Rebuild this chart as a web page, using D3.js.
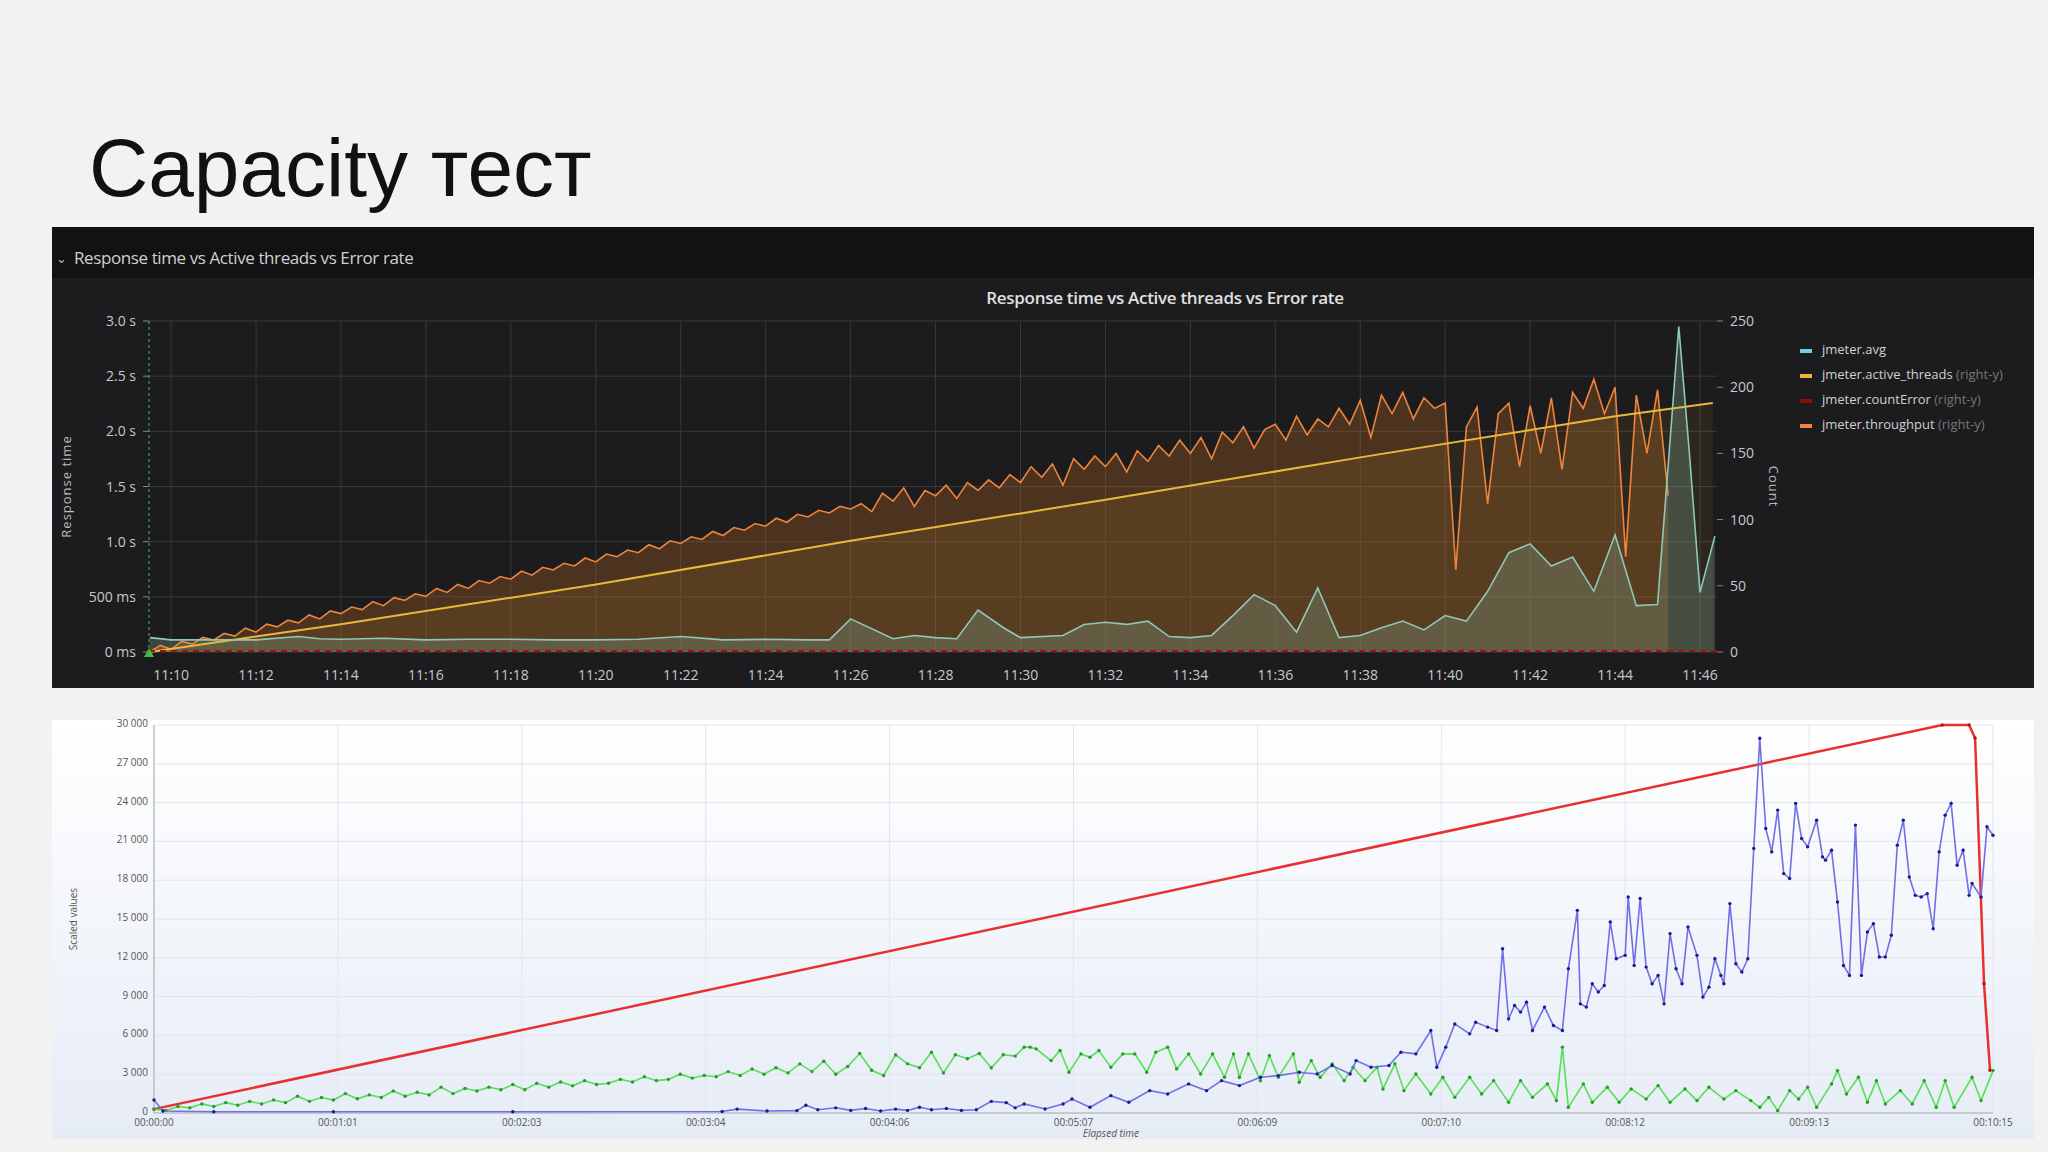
<!DOCTYPE html>
<html><head><meta charset="utf-8">
<script src="https://cdn.jsdelivr.net/npm/d3@7"></script>
<style>body{margin:0;background:#f2f2f2;font-family:"Open Sans","Noto Sans",sans-serif;}</style>
</head><body>
<svg id="c" width="2048" height="1152"></svg>
<script>
// ---------- top chart data (minutes after 11:00) ----------
const tpStart = 9.5, tpStep = 0.25;
const throughput = [0,5,2,8,6,11,9,14,12,18,15,21,19,24,22,28,25,31,29,34,32,38,35,41,39,44,42,48,45,51,48,54,52,57,55,61,58,64,62,67,65,71,68,74,72,77,75,81,78,84,82,87,85,91,88,94,92,97,95,101,98,104,102,107,105,110,108,
 112,106,120,114,124,110,122,118,126,116,128,122,130,124,134,
 128,140,132,142,126,146,138,148,140,150,136,152,144,156,148,
 160,150,162,146,166,158,170,154,168,172,160,178,164,176,170,
 184,172,190,162,194,180,196,176,192,184,188,
 62,170,185,112,180,188,140,186,150,192,138,196,184,206,180,200,72,194,150,198,118];
const threadsT = [9.5, 14, 20, 26, 32, 38, 44, 46.3];
const threadsV = [0, 21, 51, 84, 115, 147, 178, 188];
const avgT = [9.5,10,11,12,13,13.5,14,15,16,17,18,19,20,21,22,23,24,25,25.5,26,27,27.5,28,28.5,29,29.6,30,31,31.5,32,32.5,33,33.5,34,34.5,35,35.5,36,36.5,37,37.5,38,38.5,39,39.5,40,40.5,41,41.5,42,42.5,43,43.5,44,44.5,45,45.5,45.75,46,46.35];
const avgV = [130,110,110,110,140,120,115,125,110,115,115,110,110,115,140,110,115,110,110,300,120,150,130,120,380,220,130,150,250,270,250,280,140,130,150,330,520,420,180,580,130,150,220,280,200,330,280,550,900,980,780,860,550,1060,420,430,2950,1800,540,1050,650];
const leftTicks = [0,500,1000,1500,2000,2500,3000];
const leftLabels = ["0 ms","500 ms","1.0 s","1.5 s","2.0 s","2.5 s","3.0 s"];
const rightTicks = [0,50,100,150,200,250];
const xTicks = [10,12,14,16,18,20,22,24,26,28,30,32,34,36,38,40,42,44,46];
const legendNames = ["jmeter.avg","jmeter.active_threads","jmeter.countError","jmeter.throughput"];
const legendSuffix = [""," (right-y)"," (right-y)"," (right-y)"];
const legendColors = ["#6ed0e0","#eab839","#890f02","#ef843c"];

// ---------- bottom chart data (seconds, scaled values) ----------
const redPts = [[0,300],[598,30000],[607,30000],[609,29000],[612,10000],[614,3300]];
const bluePts = [[0,1000],[3,150],[20,100],[60,100],[120,100],[190,120],[195,300],[205,150],[215,180],[218,600],[222,250],[228,400],[233,200],[238,350],[243,150],[248,300],[252,200],[256,450],[260,250],[265,350],[270,200],[275,250],[280,900],[285,800],[288,400],
[291,700],[298,310],[304,700],[307,1080],[313,440],[320,1340],[326,830],[333,1730],[339,1470],[346,2250],[352,1730],[357,2500],[363,2120],[370,2760],[376,2890],[383,3150],[389,3020],[394,3670],[400,3020],[402,4050],[407,3540],[413,3670],[417,4700],[422,4570],[427,6380],[429,3540],[432,5090],[435,6890],[440,6120],[442,7020],[446,6640],[449,6380],[451,12700],[453,7280],[455,8310],[457,7800],[459,8570],[461,6380],[465,8190],[468,6760],[471,6380],[473,11150],[476,15670],[477,8440],[479,8190],[481,9990],[483,9350],[485,9860],[487,14770],[489,11930],[492,12190],[493,16700],[495,11410],[497,16580],[499,11280],[501,9990],[503,10640],[505,8440],[507,13870],[509,11150],[511,9990],[513,14380],[516,12190],[518,8960],[520,9730],[522,11930],[524,10640],[525,9990],[527,16190],[529,11540],[531,10900],[533,11930],[535,20450],[537,28970],[539,22000],[541,20190],[543,23420],[545,18510],[547,18130],[549,23940],[551,21220],[553,20580],[556,22640],[558,19800],[559,19550],[561,20320],[563,16320],[565,11410],[567,10640],[569,22260],[571,10640],[573,13990],[575,14640],[577,12060],[579,12060],[581,13740],[583,20710],[585,22640],[587,18250],[589,16830],[591,16700],[593,16960],[595,14250],[597,20190],[599,23030],[601,23940],[603,19160],[605,20320],[607,16830],[608,17740],[611,16700],[613,22130],[615,21480]];
const greenPts = [[0,300],[4,200],[8,500],[12,400],[16,700],[20,500],[24,800],[28,600],[32,900],[36,700],[40,1000],[44,800],[48,1300],[52,900],[56,1200],[60,1000],[64,1500],[68,1100],[72,1400],[76,1200],[80,1700],[84,1300],[88,1600],[92,1400],[96,2000],[100,1500],[104,1900],[108,1700],[112,2000],[116,1800],[120,2200],[124,1800],[128,2300],[132,2000],[136,2400],[140,2100],[144,2500],[148,2200],[152,2300],[156,2600],[160,2400],[164,2800],[168,2500],[172,2600],[176,3000],[180,2700],[184,2900],[188,2800],[192,3200],[196,2900],[200,3400],[204,3000],[208,3500],[212,3100],[216,3800],[220,3200],[224,4000],[228,3000],[232,3600],[236,4600],[240,3300],[244,2900],[248,4500],[252,3800],[256,3500],[260,4700],[264,3100],[268,4500],[272,4200],[276,4600],[280,3500],[284,4500],[288,4400],
[291,5090],[293,5090],[295,4960],[300,4050],[303,4830],[306,3150],[310,4570],[313,4310],[316,4830],[320,3540],[324,4570],[328,4570],[332,3150],[335,4700],[339,5090],[342,3410],[346,4570],[350,3020],[354,4570],[358,2760],[361,4570],[363,2760],[366,4570],[370,2500],[373,4440],[376,2760],[381,4570],[383,2380],[387,4050],[390,2760],[394,3800],[398,2500],[401,3540],[405,2500],[409,3540],[411,1860],[415,3800],[418,1730],[422,3020],[427,1470],[431,2760],[435,1210],[440,2760],[444,1470],[448,2500],[453,830],[457,2500],[461,1210],[466,2250],[469,960],[471,5090],[473,440],[478,2250],[481,830],[486,1990],[490,830],[494,1860],[499,1080],[503,2120],[507,830],[512,1860],[516,960],[520,1990],[525,1080],[529,1730],[534,960],[537,440],[540,1210],[543,180],[547,1730],[550,1080],[553,1990],[556,440],[561,2250],[563,3280],[566,1470],[570,2760],[573,830],[576,2500],[579,700],[584,1730],[588,700],[592,2500],[596,440],[599,2500],[602,440],[608,2760],[611,960],[615,3280]];
const bYTicks = [0,3000,6000,9000,12000,15000,18000,21000,24000,27000,30000];
const bXTicks = [0,61.5,123,184.5,246,307.5,369,430.5,492,553.5,615];
const bXLabels = ["00:00:00","00:01:01","00:02:03","00:03:04","00:04:06","00:05:07","00:06:09","00:07:10","00:08:12","00:09:13","00:10:15"];

const svg = d3.select("#c");
svg.append("text").attr("x",89).attr("y",196).attr("font-size",82).attr("fill","#111")
  .attr("font-family","Liberation Sans, Arial, sans-serif").text("Capacity тест");

// ----- top panel -----
svg.append("rect").attr("x",52).attr("y",227).attr("width",1982).attr("height",461).attr("fill","#1c1c1e");
svg.append("rect").attr("x",52).attr("y",227).attr("width",1982).attr("height",51).attr("fill","#121212");
svg.append("text").attr("x",56).attr("y",263).attr("fill","#bbb").attr("font-size",13).text("⌄");
svg.append("text").attr("x",74).attr("y",264).attr("fill","#d0d0d0").attr("font-size",17).attr("letter-spacing",-0.4).text("Response time vs Active threads vs Error rate");
svg.append("text").attr("x",1165).attr("y",304).attr("text-anchor","middle").attr("fill","#e0e0e0").attr("font-size",17).attr("font-weight","600").attr("letter-spacing",-0.3).text("Response time vs Active threads vs Error rate");

const L=149,R=1717,T=321,B=652;
const x = d3.scaleLinear().domain([9.48,46.4]).range([L,R]);
const yL = d3.scaleLinear().domain([0,3000]).range([B,T]);
const yR = d3.scaleLinear().domain([0,250]).range([B,T]);
const g = svg.append("g");
g.selectAll(".hg").data(leftTicks).join("line").attr("x1",L).attr("x2",R).attr("y1",d=>yL(d)).attr("y2",d=>yL(d)).attr("stroke","#3a3a3c");
g.selectAll(".vg").data(xTicks).join("line").attr("y1",T).attr("y2",B).attr("x1",d=>x(d)).attr("x2",d=>x(d)).attr("stroke","#38383a");
const tpData = throughput.map((v,i)=>[tpStart+i*tpStep,v]);
g.append("path").datum(tpData).attr("fill","rgba(200,110,40,0.28)")
  .attr("d",d3.area().x(d=>x(d[0])).y0(B).y1(d=>yR(d[1])));
const thData = threadsT.map((t,i)=>[t,threadsV[i]]);
g.append("path").datum(thData).attr("fill","rgba(234,184,57,0.08)")
  .attr("d",d3.area().x(d=>x(d[0])).y0(B).y1(d=>yR(d[1])));
const avgData = avgT.map((t,i)=>[t,avgV[i]]);
g.append("path").datum(avgData).attr("fill","rgba(120,150,130,0.35)")
  .attr("d",d3.area().x(d=>x(d[0])).y0(B).y1(d=>yL(d[1])));
g.append("path").datum(tpData).attr("fill","none").attr("stroke","#ef843c").attr("stroke-width",1.6)
  .attr("d",d3.line().x(d=>x(d[0])).y(d=>yR(d[1])));
g.append("path").datum(thData).attr("fill","none").attr("stroke","#eab839").attr("stroke-width",2)
  .attr("d",d3.line().x(d=>x(d[0])).y(d=>yR(d[1])));
g.append("path").datum(avgData).attr("fill","none").attr("stroke","#8fc8b8").attr("stroke-width",1.6)
  .attr("d",d3.line().x(d=>x(d[0])).y(d=>yL(d[1])));
g.append("line").attr("x1",L).attr("x2",R).attr("y1",yR(0)-1).attr("y2",yR(0)-1).attr("stroke","#a01010").attr("stroke-width",2).attr("stroke-dasharray","6,5");
g.append("line").attr("x1",L).attr("x2",L).attr("y1",T).attr("y2",B).attr("stroke","#3fbf3f").attr("stroke-dasharray","3,3");
g.append("path").attr("d",`M${L-5},${B+5}L${L+5},${B+5}L${L},${B-4}Z`).attr("fill","#3fbf3f");
g.selectAll(".lt").data(leftTicks).join("text").attr("x",L-13).attr("y",d=>yL(d)+5).attr("text-anchor","end").attr("fill","#c8c8c8").attr("font-size",14).text((d,i)=>leftLabels[i]);
g.selectAll(".lk").data(leftTicks).join("line").attr("x1",L-6).attr("x2",L).attr("y1",d=>yL(d)).attr("y2",d=>yL(d)).attr("stroke","#888");
g.selectAll(".rt").data(rightTicks).join("text").attr("x",R+13).attr("y",d=>yR(d)+5).attr("fill","#c8c8c8").attr("font-size",14).text(d=>d);
g.selectAll(".rk").data(rightTicks).join("line").attr("x1",R).attr("x2",R+6).attr("y1",d=>yR(d)).attr("y2",d=>yR(d)).attr("stroke","#888");
g.selectAll(".xt").data(xTicks).join("text").attr("x",d=>x(d)).attr("y",B+28).attr("text-anchor","middle").attr("fill","#c8c8c8").attr("font-size",14)
  .text(d=>"11:"+String(d).padStart(2,"0"));
g.append("text").attr("transform",`translate(71,${(T+B)/2}) rotate(-90)`).attr("text-anchor","middle").attr("fill","#bbb").attr("font-size",13).attr("letter-spacing",1).text("Response time");
g.append("text").attr("transform",`translate(1769,${(T+B)/2}) rotate(90)`).attr("text-anchor","middle").attr("fill","#bbb").attr("font-size",13).attr("letter-spacing",1).text("Count");
legendNames.forEach((n,i)=>{
  const yy=353+i*25;
  g.append("rect").attr("x",1800).attr("y",yy-4).attr("width",12).attr("height",4).attr("fill",legendColors[i]);
  const t=g.append("text").attr("x",1822).attr("y",yy+1).attr("font-size",13).attr("fill","#d0d0d0").text(n);
  t.append("tspan").attr("fill","#777").text(legendSuffix[i]);
});

// ----- bottom panel -----
const defs=svg.append("defs");
const gr=defs.append("linearGradient").attr("id","bg").attr("x1",0).attr("y1",0).attr("x2",0).attr("y2",1);
gr.append("stop").attr("offset","0%").attr("stop-color","#ffffff");
gr.append("stop").attr("offset","100%").attr("stop-color","#e6ecf6");
svg.append("rect").attr("x",52).attr("y",720).attr("width",1982).attr("height",419).attr("fill","url(#bg)");
const bL=154,bR=1993,bT=725,bB=1113;
const bx=d3.scaleLinear().domain([0,615]).range([bL,bR]);
const by=d3.scaleLinear().domain([0,30000]).range([bB,bT]);
const b=svg.append("g");
b.selectAll(".bh").data(bYTicks).join("line").attr("x1",bL).attr("x2",bR).attr("y1",d=>by(d)).attr("y2",d=>by(d)).attr("stroke","#e2e5ea");
b.selectAll(".bv").data(bXTicks).join("line").attr("x1",d=>bx(d)).attr("x2",d=>bx(d)).attr("y1",bT).attr("y2",bB).attr("stroke","#e2e5ea");
b.append("line").attr("x1",bL).attr("x2",bL).attr("y1",bT).attr("y2",bB).attr("stroke","#aaa");
b.append("line").attr("x1",bL).attr("x2",bR).attr("y1",bB).attr("y2",bB).attr("stroke","#aaa");
b.selectAll(".by").data(bYTicks).join("text").attr("x",bL-6).attr("y",d=>by(d)+2).attr("text-anchor","end").attr("font-size",10).attr("fill","#555")
  .text(d=>d3.format(",")(d).replace(","," "));
b.selectAll(".bxl").data(bXTicks).join("text").attr("x",d=>bx(d)).attr("y",bB+13).attr("text-anchor","middle").attr("font-size",10).attr("fill","#555").text((d,i)=>bXLabels[i]);
b.append("text").attr("x",bx(320)).attr("y",bB+24).attr("font-size",10).attr("font-style","italic").attr("fill","#555").attr("text-anchor","middle").text("Elapsed time");
b.append("text").attr("transform",`translate(77,${(bT+bB)/2}) rotate(-90)`).attr("text-anchor","middle").attr("font-size",10).attr("fill","#555").text("Scaled values");
const ln=d3.line().x(d=>bx(d[0])).y(d=>by(d[1]));
function series(pts,lc,dc,w){
  b.append("path").datum(pts).attr("fill","none").attr("stroke",lc).attr("stroke-width",w).attr("d",ln);
  b.selectAll(null).data(pts).join("circle").attr("cx",d=>bx(d[0])).attr("cy",d=>by(d[1])).attr("r",1.7).attr("fill",dc);
}
series(redPts,"#e83030","#c01010",2.5);
series(greenPts,"#55e055","#2a9a2a",1.6);
series(bluePts,"#7070e6","#1a1a90",1.6);
</script></body></html>
